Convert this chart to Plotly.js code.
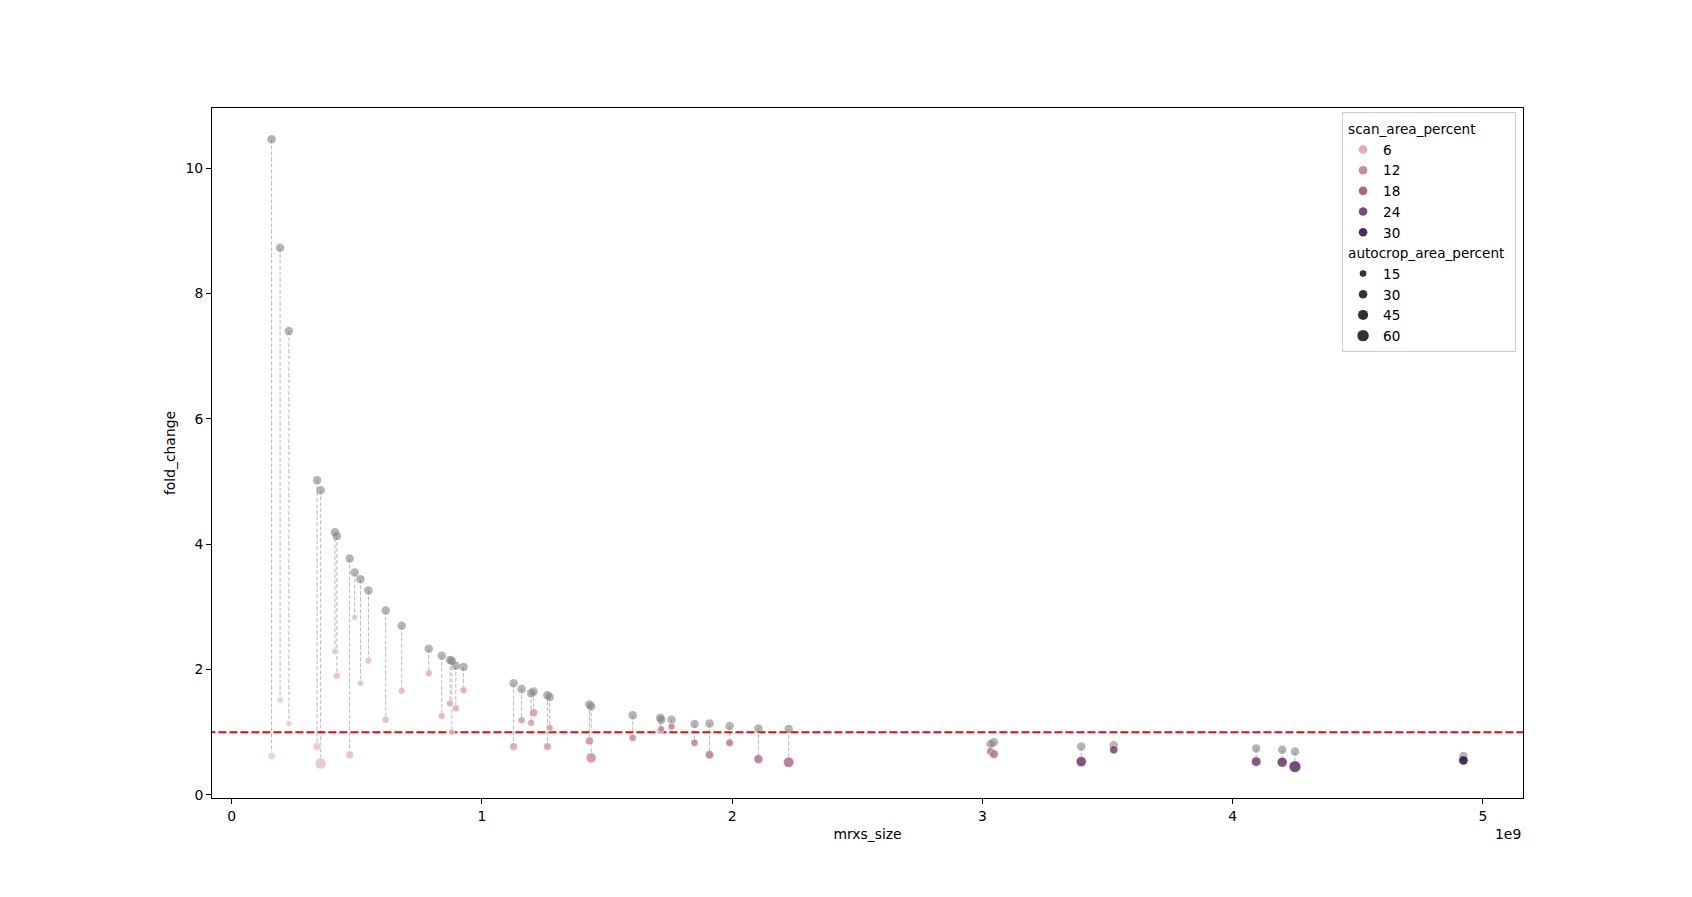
<!DOCTYPE html>
<html><head><meta charset="utf-8">
<script src="https://cdn.plot.ly/plotly-3.0.1.min.js"></script>
<style>html,body{margin:0;padding:0;background:#fff}#chart{width:1692px;height:897px}</style>
</head><body><div id="chart"></div>
<script>
// ---- data ----
const mrxsSize = [0.160e9,0.194e9,0.229e9,0.342e9,0.356e9,0.413e9,0.421e9,0.472e9,0.492e9,0.515e9,
  0.547e9,0.616e9,0.680e9,0.788e9,0.840e9,0.873e9,0.880e9,0.896e9,0.927e9,1.127e9,
  1.159e9,1.197e9,1.207e9,1.262e9,1.271e9,1.430e9,1.437e9,1.603e9,1.713e9,1.717e9,
  1.758e9,1.850e9,1.910e9,1.990e9,2.105e9,2.226e9,3.033e9,3.046e9,3.395e9,3.525e9,
  4.094e9,4.198e9,4.249e9,4.922e9];
const foldChangeGray = [10.46,8.73,7.40,5.02,4.86,4.19,4.13,3.77,3.55,3.44,
  3.26,2.94,2.70,2.33,2.22,2.15,2.14,2.06,2.04,1.78,
  1.69,1.62,1.65,1.59,1.56,1.44,1.41,1.27,1.23,1.20,
  1.20,1.13,1.14,1.10,1.06,1.05,0.81,0.84,0.77,0.79,
  0.74,0.72,0.69,0.62];
const foldChange = [0.62,1.51,1.14,0.77,0.50,2.29,1.90,0.64,2.83,1.78,
  2.14,1.20,1.66,1.94,1.26,1.46,1.00,1.38,1.67,0.77,
  1.19,1.15,1.31,0.77,1.07,0.86,0.59,0.91,1.03,1.05,
  1.09,0.83,0.64,0.83,0.57,0.52,0.69,0.65,0.53,0.72,
  0.53,0.52,0.45,0.55];
const scanAreaPercent = [1.0,1.5,1.8,2.5,2.6,2.9,3.0,3.3,3.4,3.6,
  3.8,4.3,4.7,5.5,5.8,6.1,6.2,6.3,6.5,7.9,
  8.1,8.3,8.5,8.8,8.9,10.0,10.1,11.2,12.0,12.0,
  12.3,12.9,13.4,13.9,14.7,15.6,14.5,15.0,25.5,23.5,
  24.0,26.0,27.5,34.3];
const autocropAreaPercent = [20,12,12,25,55,12,18,25,10,12,
  14,18,16,16,16,18,12,18,16,24,
  18,18,26,24,16,26,45,20,16,16,
  18,20,30,22,35,50,25,32,45,28,
  40,45,64,38];
const xTickValues = [0,1e9,2e9,3e9,4e9,5e9];
const xTickLabels = ['0','1','2','3','4','5'];
const yTickValues = [0,2,4,6,8,10];
const yTickLabels = ['0','2','4','6','8','10'];
const scanLegendValues = [6,12,18,24,30];
const autocropLegendValues = [15,30,45,60];
const referenceLevel = 1;

// ---- styling helpers ----
const cubehelix = [[0,'#edd1cb'],[0.1,'#e5baba'],[0.2,'#daa4ac'],[0.3,'#cd8ea1'],[0.4,'#bd7a98'],
  [0.5,'#aa678f'],[0.6,'#935685'],[0.7,'#7b4778'],[0.8,'#613969'],[0.9,'#462b55'],[1,'#2d1e3e']];
const hMin = Math.min(...scanAreaPercent), hMax = Math.max(...scanAreaPercent);
function hex2rgb(h){return [parseInt(h.slice(1,3),16),parseInt(h.slice(3,5),16),parseInt(h.slice(5,7),16)];}
function colorAt(v){
  const t = Math.max(0,Math.min(1,(v-hMin)/(hMax-hMin)));
  for(let i=1;i<cubehelix.length;i++){
    if(t<=cubehelix[i][0]){
      const a=cubehelix[i-1], b=cubehelix[i];
      const f=(t-a[0])/(b[0]-a[0]);
      const ca=hex2rgb(a[1]), cb=hex2rgb(b[1]);
      return 'rgb('+ca.map((c,k)=>Math.round(c+(cb[k]-c)*f)).join(',')+')';
    }
  }
  return cubehelix[cubehelix.length-1][1];
}
const aMin = Math.min(...autocropAreaPercent), aMax = Math.max(...autocropAreaPercent);
function sizeFor(v){ // seaborn-like: area 18..72 pt^2, converted to px diameter
  const area = 18 + (v-aMin)/(aMax-aMin)*54;
  return Math.sqrt(area)*100/72;
}

// ---- ranges with 5% margins ----
const allY = foldChangeGray.concat(foldChange);
const yMin = Math.min(...allY), yMax = Math.max(...allY);
const xMin = Math.min(...mrxsSize), xMax = Math.max(...mrxsSize);
const yPad = (yMax-yMin)*0.05, xPad = (xMax-xMin)*0.05;

// ---- traces ----
const segX = [], segY = [];
mrxsSize.forEach((x,i)=>{segX.push(x,x,null); segY.push(foldChangeGray[i],foldChange[i],null);});
const traces = [];
traces.push({type:'scatter',mode:'lines',x:segX,y:segY,showlegend:false,hoverinfo:'skip',
  line:{color:'rgba(128,128,128,0.55)',width:1,dash:'4px,2px'}});
traces.push({type:'scatter',mode:'lines',x:[xMin-xPad*2,xMax+xPad*2],y:[referenceLevel,referenceLevel],
  showlegend:false,hoverinfo:'skip',line:{color:'red',width:2,dash:'8px,3px'}});
traces.push({type:'scatter',mode:'markers',x:mrxsSize,y:foldChangeGray,showlegend:false,
  marker:{color:'rgba(128,128,128,0.58)',size:8.5}});
traces.push({type:'scatter',mode:'markers',x:mrxsSize,y:foldChange,showlegend:false,
  marker:{color:scanAreaPercent,colorscale:cubehelix,cmin:hMin,cmax:hMax,showscale:false,
    size:autocropAreaPercent.map(sizeFor),opacity:0.9,line:{color:'white',width:0.6}}});
scanLegendValues.forEach((v,i)=>{
  const t={type:'scatter',mode:'markers',x:[null],y:[null],name:String(v),legendgroup:'scan',
    marker:{color:colorAt(v),size:8.6}};
  if(i===0) t.legendgrouptitle={text:'scan_area_percent'};
  traces.push(t);
});
autocropLegendValues.forEach((v,i)=>{
  const t={type:'scatter',mode:'markers',x:[null],y:[null],name:String(v),legendgroup:'autocrop',
    marker:{color:'#333333',size:sizeFor(v)}};
  if(i===0) t.legendgrouptitle={text:'autocrop_area_percent'};
  traces.push(t);
});

const axisCommon = {showgrid:false,zeroline:false,showline:true,mirror:true,linecolor:'#000',linewidth:1.1,
  ticks:'outside',ticklen:4.9,tickwidth:1.1,tickcolor:'#000',
  tickfont:{family:'DejaVu Sans',size:13.9,color:'#000'}};
const layout = {
  width:1692,height:897,paper_bgcolor:'#fff',plot_bgcolor:'#fff',
  font:{family:'DejaVu Sans',size:13.9,color:'#000'},
  margin:{l:211.5,r:169.2,t:107.6,b:98.7,pad:0},
  xaxis:Object.assign({},axisCommon,{range:[xMin-xPad,xMax+xPad],tickmode:'array',tickvals:xTickValues,ticktext:xTickLabels,
    title:{text:'mrxs_size',standoff:6,font:{family:'DejaVu Sans',size:13.9,color:'#000'}}}),
  yaxis:Object.assign({},axisCommon,{range:[yMin-yPad,yMax+yPad],tickmode:'array',tickvals:yTickValues,ticktext:yTickLabels,
    title:{text:'fold_change',standoff:6,font:{family:'DejaVu Sans',size:13.9,color:'#000'}}}),
  legend:{x:0.9947,y:0.9935,xanchor:'right',yanchor:'top',bordercolor:'#cccccc',borderwidth:1,
    bgcolor:'rgba(255,255,255,0.8)',itemsizing:'trace',traceorder:'grouped',tracegroupgap:0,
    font:{family:'DejaVu Sans',size:13.6,color:'#000'},
    grouptitlefont:{family:'DejaVu Sans',size:13.6,color:'#000'}},
  annotations:[{text:'1e9',xref:'paper',yref:'paper',x:1,y:0,xanchor:'right',yanchor:'top',yshift:-26,
    showarrow:false,font:{family:'DejaVu Sans',size:13.9,color:'#000'}}],
  showlegend:true
};
Plotly.newPlot('chart',traces,layout,{displayModeBar:false,staticPlot:true});
</script></body></html>
